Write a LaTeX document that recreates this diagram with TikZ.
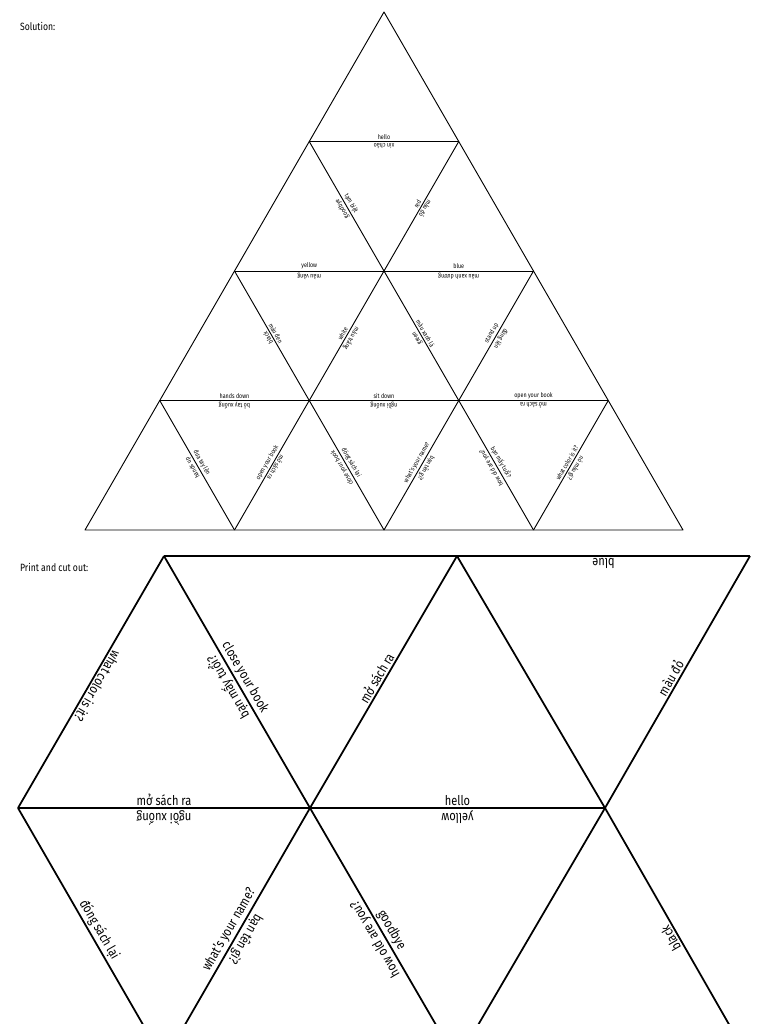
\documentclass[tikz,border=0pt]{standalone}
\usepackage{fontspec}
\setmainfont{Fira Sans}[FakeStretch=0.82]
\usetikzlibrary{positioning}

\tikzset{
  up/.style={midway, sloped, allow upside down, anchor=south, inner sep=1.5pt},
  dn/.style={midway, sloped, allow upside down, anchor=south, rotate=180, inner sep=1.5pt},
  tiny/.style={font=\fontsize{5.6}{6}\selectfont},
  big/.style={font=\fontsize{11.5}{12}\selectfont, inner sep=3pt}
}

\begin{document}
\begin{tikzpicture}[x=0.03cm, y=-0.03cm]

\useasboundingbox (0,0) rectangle (768,1024);
\clip (0,0) rectangle (768,1024);

\node[anchor=west, font=\fontsize{9}{10}\selectfont] (sol) at (16,26) {Solution:};
\node[anchor=west, font=\fontsize{9}{10}\selectfont] (cut) at (16,567) {Print and cut out:};

% solution grid
\foreach \r in {0,...,4}
  \foreach \i in {0,...,\r}
    \coordinate (t\r\i) at ({384+(2*\i-\r)*74.75},{12+129.5*\r});

\draw[line width=0.8pt, line join=round] (t00) -- (t40) -- (t44) -- cycle;
\foreach \r in {1,2,3} {
  \pgfmathtruncatemacro{\k}{4-\r}
  \draw[line width=0.8pt] (t\r0) -- (t\r\r);
  \draw[line width=0.8pt] (t\r0) -- (t4\k);
  \draw[line width=0.8pt] (t\r\r) -- (t4\r);
}

\begin{scope}[every node/.append style={tiny}]
\path (t10) -- (t11) node[up] {hello} node[dn] {xin chào};
\path (t20) -- (t21) node[up] {yellow} node[dn] {màu vàng};
\path (t21) -- (t22) node[up] {blue} node[dn] {màu xanh dương};
\path (t30) -- (t31) node[up] {hands down} node[dn] {bỏ tay xuống};
\path (t31) -- (t32) node[up] {sit down} node[dn] {ngồi xuống};
\path (t32) -- (t33) node[up] {open your book} node[dn] {mở sách ra};

\path (t10) -- (t21) node[up] {tạm biệt} node[dn] {goodbye};
\path (t20) -- (t31) node[up] {màu đen} node[dn] {black};
\path (t21) -- (t32) node[up] {màu xanh lá} node[dn] {green};
\path (t30) -- (t41) node[up] {đưa tay lên} node[dn] {hands up};
\path (t31) -- (t42) node[up] {đóng sách lại} node[dn] {close your book};
\path (t32) -- (t43) node[up] {bạn mấy tuổi?} node[dn] {how old are you?};

\path (t21) -- (t11) node[up] {red} node[dn] {màu đỏ};
\path (t31) -- (t21) node[up] {white} node[dn] {màu trắng};
\path (t32) -- (t22) node[up] {stand up} node[dn] {đứng lên};
\path (t41) -- (t31) node[up] {open your book} node[dn] {mở sách ra};
\path (t42) -- (t32) node[up] {what's your name?} node[dn] {bạn tên gì?};
\path (t43) -- (t33) node[up] {what color is it?} node[dn] {nó màu gì?};
\end{scope}

% cut-out pieces
\coordinate (b0) at (164,556);
\coordinate (b1) at (457,556);
\coordinate (b2) at (750,556);
\coordinate (m0) at (18,808);
\coordinate (m1) at (310,808);
\coordinate (m2) at (605,808);
\coordinate (l0) at (164,1061);
\coordinate (l1) at (457,1061);
\coordinate (l2) at (750,1061);

\begin{scope}[line width=1.5pt, every node/.append style={big}]
\draw (b0) -- (b1);
\draw (b1) -- (b2) node[dn] {blue};
\draw (m0) -- (b0) node[dn] {what color is it?};
\draw (b0) -- (m1) node[up] {close your book} node[dn] {bạn mấy tuổi?};
\draw (m1) -- (b1) node[up] {mở sách ra};
\draw (b1) -- (m2);
\draw (m2) -- (b2) node[up] {màu đỏ};
\draw (m0) -- (m1) node[up] {mở sách ra} node[dn] {ngồi xuống};
\draw (m1) -- (m2) node[up] {hello} node[dn] {yellow};
\draw (m0) -- (l0) node[up] {đóng sách lại};
\draw (l0) -- (m1) node[up] {what's your name?} node[dn] {bạn tên gì?};
\draw (m1) -- (l1) node[up] {goodbye} node[dn] {how old are you?};
\draw (l1) -- (m2);
\draw (m2) -- (l2) node[dn] {black};
\end{scope}

\end{tikzpicture}
\end{document}
